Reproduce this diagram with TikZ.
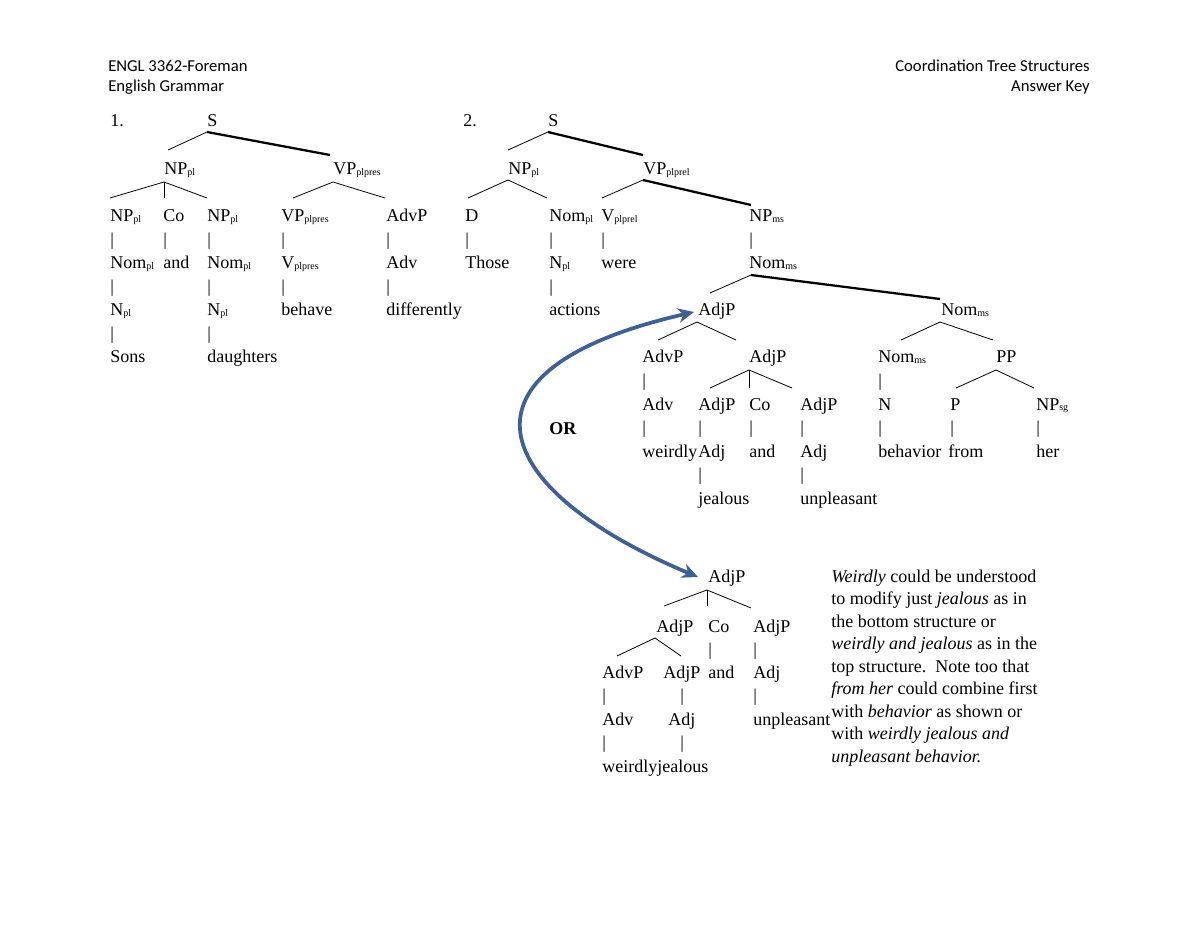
\documentclass[tikz,border=0pt]{standalone}
\usepackage{fontspec}
\setmainfont{Liberation Serif}
\newfontfamily\hdfont{Carlito}
\usetikzlibrary{arrows.meta}
\newcommand{\sbx}[1]{\raisebox{-0.6pt}{\fontsize{7.5}{8}\selectfont #1}}
\tikzset{
  lab/.style={anchor=base west,inner sep=0pt,font=\fontsize{13.5}{15}\selectfont},
  labr/.style={anchor=base east,inner sep=0pt,font=\hdfont\fontsize{12.5}{14}\selectfont},
  hd/.style={anchor=base west,inner sep=0pt,font=\hdfont\fontsize{12.5}{14}\selectfont},
  br/.style={line width=0.6pt},
  thk/.style={line width=1.7pt},
  orarrow/.style={line width=2.8pt,draw={rgb,255:red,62;green,96;blue,148},{Stealth[length=12pt,width=11pt]}-{Stealth[length=12pt,width=11pt]}}
}
\begin{document}
\begin{tikzpicture}[x=0.75pt,y=-0.75pt]
\useasboundingbox (0,0) rectangle (1200,927);
\fill[white] (0,0) rectangle (1200,927);
% header
\node[hd] (h1) at (108,72) {ENGL 3362-Foreman};
\node[hd] (h2) at (108,92) {English Grammar};
\node[labr] (h3) at (1090,72) {Coordination Tree Structures};
\node[labr] (h4) at (1090,92) {Answer Key};
% ---------- Tree 1
\node[lab] (n1) at (110,127) {1.};
\node[lab] (s1) at (207,127) {S};
\node[lab] (np1) at (164,175) {NP\sbx{pl}};
\node[lab] (vp1) at (333,175) {VP\sbx{plpres}};
\draw[br] (207,132) -- (168,150);
\draw[thk] (207,132) -- (330,155);
\draw[br] (164,182) -- (110,198);
\draw[br] (164,182) -- (164,198);
\draw[br] (164,182) -- (207,198);
\draw[br] (333,182) -- (293,198);
\draw[br] (333,182) -- (385,198);
\node[lab] (a1) at (110,222) {NP\sbx{pl}};
\node[lab] (a2) at (163,222) {Co};
\node[lab] (a3) at (207,222) {NP\sbx{pl}};
\node[lab] (a4) at (281,222) {VP\sbx{plpres}};
\node[lab] (a5) at (386,222) {AdvP};
\foreach \x in {110,163,207,281,386} \node[lab] at (\x,245.5) {|};
\node[lab] (b1) at (110,269) {Nom\sbx{pl}};
\node[lab] (b2) at (163,269) {and};
\node[lab] (b3) at (207,269) {Nom\sbx{pl}};
\node[lab] (b4) at (281,269) {V\sbx{plpres}};
\node[lab] (b5) at (386,269) {Adv};
\foreach \x in {110,207,281,386} \node[lab] at (\x,292.5) {|};
\node[lab] (c1) at (110,316) {N\sbx{pl}};
\node[lab] (c3) at (207,316) {N\sbx{pl}};
\node[lab] (c4) at (281,316) {behave};
\node[lab] (c5) at (386,316) {differently};
\foreach \x in {110,207} \node[lab] at (\x,339.5) {|};
\node[lab] (d1) at (110,363) {Sons};
\node[lab] (d3) at (207,363) {daughters};
% ---------- Tree 2
\node[lab] (n2) at (463,127) {2.};
\node[lab] (s2) at (548,127) {S};
\node[lab] (np2) at (508,175) {NP\sbx{pl}};
\node[lab] (vp2) at (643,175) {VP\sbx{plprel}};
\draw[br] (548,132) -- (508,150);
\draw[thk] (548,132) -- (643,155);
\draw[br] (508,180) -- (468,198);
\draw[br] (508,180) -- (547,198);
\draw[br] (643,180) -- (602,198);
\draw[thk] (643,180) -- (751,205);
\node[lab] (e1) at (465,222) {D};
\node[lab] (e2) at (549,222) {Nom\sbx{pl}};
\node[lab] (e3) at (601,222) {V\sbx{plprel}};
\node[lab] (e4) at (749,222) {NP\sbx{ms}};
\foreach \x in {465,549,601,749} \node[lab] at (\x,245.5) {|};
\node[lab] (f1) at (465,269) {Those};
\node[lab] (f2) at (549,269) {N\sbx{pl}};
\node[lab] (f3) at (601,269) {were};
\node[lab] (f4) at (749,269) {Nom\sbx{ms}};
\node[lab] at (549,292.5) {|};
\node[lab] (g2) at (549,316) {actions};
\draw[br] (751,275) -- (710,293);
\draw[thk] (751,275) -- (940,299);
\node[lab] (adj1) at (698,316) {AdjP};
\node[lab] (nom2) at (941,316) {Nom\sbx{ms}};
\draw[br] (697,322) -- (658,340);
\draw[br] (697,322) -- (736,340);
\draw[br] (940,322) -- (901,340);
\draw[br] (940,322) -- (993,340);
\node[lab] (h1a) at (642,363) {AdvP};
\node[lab] (h2a) at (749,363) {AdjP};
\node[lab] (h3a) at (878,363) {Nom\sbx{ms}};
\node[lab] (h4a) at (996,363) {PP};
\draw[br] (749,370) -- (710,388);
\draw[br] (749,370) -- (749,388);
\draw[br] (749,370) -- (792,388);
\draw[br] (996,370) -- (956,388);
\draw[br] (996,370) -- (1034,388);
\foreach \x in {642,878} \node[lab] at (\x,386.5) {|};
\node[lab] (i1) at (642,410) {Adv};
\node[lab] (i2) at (698,410) {AdjP};
\node[lab] (i3) at (749,410) {Co};
\node[lab] (i4) at (800,410) {AdjP};
\node[lab] (i5) at (878,410) {N};
\node[lab] (i6) at (950,410) {P};
\node[lab] (i7) at (1036,410) {NP\sbx{sg}};
\foreach \x in {642,698,749,800,878,950,1036} \node[lab] at (\x,433.5) {|};
\node[lab] (j1) at (642,457) {weirdly};
\node[lab] (j2) at (698,457) {Adj};
\node[lab] (j3) at (749,457) {and};
\node[lab] (j4) at (800,457) {Adj};
\node[lab] (j5) at (878,457) {behavior};
\node[lab] (j6) at (948,457) {from};
\node[lab] (j7) at (1036,457) {her};
\foreach \x in {698,800} \node[lab] at (\x,480.5) {|};
\node[lab] (k2) at (698,504) {jealous};
\node[lab] (k4) at (800,504) {unpleasant};
\node[lab,font=\fontsize{13.5}{15}\selectfont\bfseries] (or) at (549,435) {OR};
% ---------- bottom tree
\node[lab] (adj2) at (708,582) {AdjP};
\draw[br] (707,590) -- (664,606);
\draw[br] (707,590) -- (707,606);
\draw[br] (707,590) -- (751,608);
\node[lab] (l1) at (656,632) {AdjP};
\node[lab] (l2) at (708,632) {Co};
\node[lab] (l3) at (753,632) {AdjP};
\draw[br] (655,638) -- (617,656);
\draw[br] (655,638) -- (681,656);
\foreach \x in {708,753} \node[lab] at (\x,655) {|};
\node[lab] (m1) at (602,678) {AdvP};
\node[lab] (m2) at (663,678) {AdjP};
\node[lab] (m3) at (708,678) {and};
\node[lab] (m4) at (753,678) {Adj};
\foreach \x in {602,680,753} \node[lab] at (\x,701.5) {|};
\node[lab] (o1) at (602,725) {Adv};
\node[lab] (o2) at (668,725) {Adj};
\node[lab] (o4) at (753,725) {unpleasant};
\foreach \x in {602,680} \node[lab] at (\x,748.5) {|};
\node[lab] (q1) at (602,772) {weirdlyjealous};
% ---------- paragraph
\node[lab] (p1) at (831,582) {\textit{Weirdly} could be understood};
\node[lab] (p2) at (831,604.5) {to modify just \textit{jealous} as in};
\node[lab] (p3) at (831,627) {the bottom structure or};
\node[lab] (p4) at (831,649.5) {\textit{weirdly and jealous} as in the};
\node[lab] (p5) at (831,672) {top structure.\ \ Note too that};
\node[lab] (p6) at (831,694.5) {\textit{from her} could combine first};
\node[lab] (p7) at (831,717) {with \textit{behavior} as shown or};
\node[lab] (p8) at (831,739.5) {with \textit{weirdly jealous and}};
\node[lab] (p9) at (831,762) {\textit{unpleasant behavior.}};
% ---------- arrow
\coordinate (ta) at (694,312);
\coordinate (tb) at (698,577);
\draw[orarrow] (ta) .. controls (440,370) and (490,490) .. (tb);
\end{tikzpicture}
\end{document}
